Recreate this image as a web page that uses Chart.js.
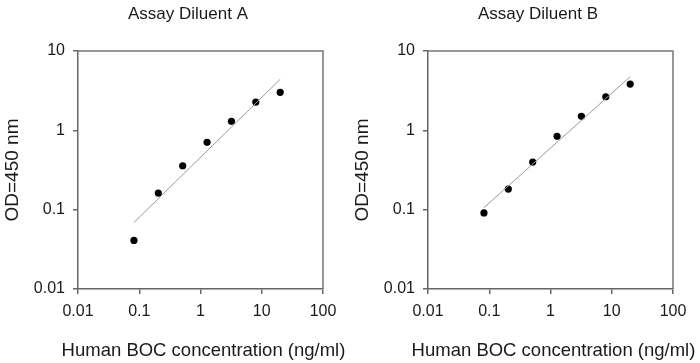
<!DOCTYPE html>
<html>
<head>
<meta charset="utf-8">
<title>Human BOC standard curves</title>
<script src="https://cdn.jsdelivr.net/npm/chart.js@4"></script>
<style>
  body { margin: 0; background: #fff; }
  .panel { position: absolute; top: 0; width: 350px; height: 363px; }
  #panelA { left: 0; }
  #panelB { left: 350px; }
</style>
</head>
<body>
<div class="panel" id="panelA"><canvas id="chartA" width="350" height="363"></canvas></div>
<div class="panel" id="panelB"><canvas id="chartB" width="350" height="363"></canvas></div>
<script>
'use strict';

// data
const titles = ['Assay Diluent A', 'Assay Diluent B'];
const concentrations = [0.08192, 0.2048, 0.512, 1.28, 3.2, 8, 20];
const odDiluentA = [0.041, 0.162, 0.358, 0.706, 1.30, 2.27, 3.01];
const odDiluentB = [0.091, 0.182, 0.398, 0.84, 1.50, 2.65, 3.83];

// fitted lines (ends of the grey line)
const fitX = [0.082, 20];
const fitYA = [0.069, 4.4];
const fitYB = [0.106, 4.74];

const xTicks = [0.01, 0.1, 1, 10, 100];
const yTicks = [0.01, 0.1, 1, 10];
const xLabel = 'Human BOC concentration (ng/ml)';
const yLabel = 'OD=450 nm';

const fontFamily = '"Liberation Sans", Arial, sans-serif';
const textColor = '#1a1a1a';
const axisColor = '#666';

function toPoints(xs, ys) {
  const pts = [];
  for (let i = 0; i < xs.length; i++) {
    pts.push({ x: xs[i], y: ys[i] });
  }
  return pts;
}

// top + right border of the plot box, panel title and x title
// (x title drawn here so chart.js doesn't squeeze it to the axis width)
const frame = {
  id: 'frame',
  afterDraw(chart, args, opts) {
    const ctx = chart.ctx;
    const a = chart.chartArea;
    ctx.save();
    ctx.strokeStyle = '#777';
    ctx.lineWidth = 1.5;
    ctx.beginPath();
    ctx.moveTo(a.left, a.top);
    ctx.lineTo(a.right, a.top);
    ctx.lineTo(a.right, a.bottom);
    ctx.stroke();

    ctx.fillStyle = textColor;
    ctx.textAlign = 'center';
    ctx.textBaseline = 'alphabetic';
    ctx.font = '17px ' + fontFamily;
    ctx.fillText(opts.text, 188, 18.5);

    ctx.font = '18.5px ' + fontFamily;
    ctx.fillText(xLabel, (a.left + a.right) / 2 + 3, 356);
    ctx.restore();
  }
};

function makeChart(canvasId, title, odValues, fitY) {
  const ctx = document.getElementById(canvasId).getContext('2d');
  return new Chart(ctx, {
    type: 'scatter',
    data: {
      datasets: [{
        label: 'fit',
        data: toPoints(fitX, fitY),
        showLine: true,
        borderColor: '#9a9a9a',
        borderWidth: 1,
        pointRadius: 0
      },
      {
        label: 'OD',
        data: toPoints(concentrations, odValues),
        showLine: false,
        backgroundColor: '#000',
        borderColor: '#000',
        pointRadius: 3.6,
        pointBorderWidth: 0
      }]
    },
    options: {
      responsive: false,
      animation: false,
      devicePixelRatio: 1,
      layout: { padding: { top: 51, right: 27, left: 0, bottom: 0 } },
      plugins: {
        legend: { display: false },
        tooltip: { enabled: false },
        frame: { text: title }
      },
      scales: {
        x: {
          type: 'logarithmic',
          min: 0.01,
          max: 100,
          afterBuildTicks: (scale) => { scale.ticks = xTicks.map(v => ({ value: v })); },
          afterFit: (scale) => { scale.height = 74; },
          grid: { drawOnChartArea: false, color: axisColor, tickLength: 5, lineWidth: 1.5 },
          border: { color: axisColor, width: 1.5 },
          ticks: {
            autoSkip: false,
            maxRotation: 0,
            padding: 8,
            color: textColor,
            font: { family: fontFamily, size: 16 },
            callback: (v) => String(v)
          },
          title: { display: false }
        },
        y: {
          type: 'logarithmic',
          min: 0.01,
          max: 10,
          afterBuildTicks: (scale) => { scale.ticks = yTicks.map(v => ({ value: v })); },
          afterFit: (scale) => { scale.width = 78; },
          grid: { drawOnChartArea: false, color: axisColor, tickLength: 5, lineWidth: 1.5 },
          border: { color: axisColor, width: 1.5 },
          ticks: {
            autoSkip: false,
            padding: 8,
            color: textColor,
            font: { family: fontFamily, size: 16 },
            callback: (v) => String(v)
          },
          title: {
            display: true,
            text: yLabel,
            color: textColor,
            font: { family: fontFamily, size: 19 },
            padding: { top: 1, bottom: 0 }
          }
        }
      }
    },
    plugins: [frame]
  });
}

makeChart('chartA', titles[0], odDiluentA, fitYA);
makeChart('chartB', titles[1], odDiluentB, fitYB);
</script>
</body>
</html>
